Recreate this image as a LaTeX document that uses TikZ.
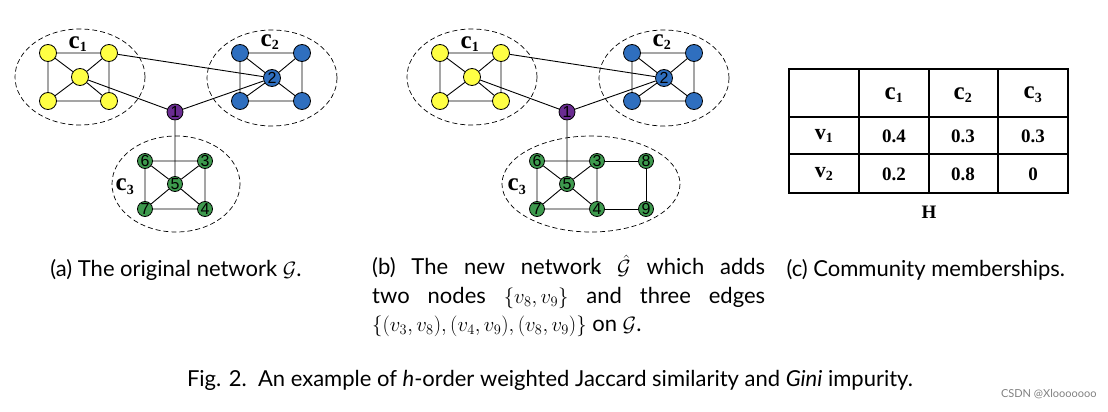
\documentclass[tikz,border=0pt]{standalone}
\usepackage{fontspec}
\setmainfont{Lato}
\newfontfamily\tnr{Liberation Serif}
\newfontfamily\ars{Liberation Sans}
\usetikzlibrary{calc}
\definecolor{yel}{HTML}{FFFF44}
\definecolor{blu}{HTML}{2F6FBF}
\definecolor{grn}{HTML}{3E9A4E}
\definecolor{pur}{HTML}{6A2C91}
\begin{document}
\begin{tikzpicture}[x=1pt,y=-1pt,
  vtx/.style={circle,draw=black,line width=0.8pt,inner sep=0pt,minimum size=#1,font=\ars\fontsize{16}{16}\selectfont},
  yv/.style={vtx=17pt,fill=yel},
  bv/.style={vtx=17pt,fill=blu},
  gv/.style={vtx=15pt,fill=grn},
  pv/.style={vtx=16pt,fill=pur},
  comm/.style={draw,dashed,line width=0.7pt,dash pattern=on 5pt off 3pt},
  edge/.style={line width=0.9pt},
  clab/.style={font=\tnr\bfseries\fontsize{25}{25}\selectfont},
  cell/.style={font=\tnr\bfseries\fontsize{19}{19}\selectfont},
  captxt/.style={font=\fontsize{22}{28.5}\selectfont}]
\useasboundingbox (0,0) rectangle (1108,412);
\newcommand{\cl}[1]{c\textsubscript{\fontsize{14}{14}\selectfont #1}}
% ---------- (a) and (b)
\foreach \dx/\p in {0/a,392/b}{
 \begin{scope}[xshift=\dx]
  \draw[comm] (80,77) ellipse (65 and 48);
  \draw[comm] (272,78) ellipse (65 and 48);
  \node[clab] (\p c1) at (78,44) {\cl{1}};
  \node[clab] (\p c2) at (270,42) {\cl{2}};
  \node[yv] (\p y1) at (48,53) {};
  \node[yv] (\p y2) at (109,53) {};
  \node[yv] (\p y0) at (80,77) {};
  \node[yv] (\p y3) at (48,101) {};
  \node[yv] (\p y4) at (109,101) {};
  \node[bv] (\p b1) at (240,53) {};
  \node[bv] (\p b2) at (302,53) {};
  \node[bv] (\p n2) at (272,78) {2};
  \node[bv] (\p b3) at (240,101) {};
  \node[bv] (\p b4) at (302,101) {};
  \node[pv] (\p n1) at (175,112) {1};
  \node[gv] (\p n6) at (145,161) {6};
  \node[gv] (\p n3) at (205,161) {3};
  \node[gv] (\p n5) at (175,184) {5};
  \node[gv] (\p n7) at (145,209) {7};
  \node[gv] (\p n4) at (205,209) {4};
  \draw[edge] (\p y1)--(\p y2) (\p y3)--(\p y4) (\p y1)--(\p y3) (\p y2)--(\p y4)
    (\p y0)--(\p y1) (\p y0)--(\p y2) (\p y0)--(\p y3) (\p y0)--(\p y4);
  \draw[edge] (\p b1)--(\p b2) (\p b3)--(\p b4) (\p b1)--(\p b3) (\p b2)--(\p b4)
    (\p n2)--(\p b1) (\p n2)--(\p b2) (\p n2)--(\p b3) (\p n2)--(\p b4);
  \draw[edge] (\p n6)--(\p n3) (\p n7)--(\p n4) (\p n6)--(\p n7) (\p n3)--(\p n4)
    (\p n5)--(\p n6) (\p n5)--(\p n3) (\p n5)--(\p n7) (\p n5)--(\p n4);
  \draw[edge] (\p y2)--(\p n2) (\p y0)--(\p n1) (\p n1)--(\p n2) (\p n1)--(\p n5);
 \end{scope}}
\draw[comm] (176,184) ellipse (64 and 48);
\node[clab] (ac3) at (125,187) {\cl{3}};
\draw[comm] (591,184) ellipse (89 and 48);
\node[clab] (bc3) at (517,187) {\cl{3}};
\node[gv] (b8) at (646,161) {8};
\node[gv] (b9) at (646,209) {9};
\draw[edge] (bn3)--(b8) (bn4)--(b9) (b8)--(b9);
% ---------- table
\draw[line width=1.3pt] (789,69) rectangle (1068,193);
\foreach \x in {859,929,998} \draw[line width=1.3pt] (\x,69)--(\x,193);
\foreach \y in {117,154} \draw[line width=1.3pt] (789,\y)--(1068,\y);
\node[clab] (h1) at (894,95) {\cl{1}};
\node[clab] (h2) at (963,95) {\cl{2}};
\node[clab] (h3) at (1033,95) {\cl{3}};
\node[cell] (r1) at (824,136) {\fontsize{22}{22}\selectfont v\textsubscript{\fontsize{14}{14}\selectfont 1}};
\node[cell] (r2) at (824,174) {\fontsize{22}{22}\selectfont v\textsubscript{\fontsize{14}{14}\selectfont 2}};
\node[cell] at (894,136) {0.4};
\node[cell] at (963,136) {0.3};
\node[cell] at (1033,136) {0.3};
\node[cell] at (894,174) {0.2};
\node[cell] at (963,174) {0.8};
\node[cell] at (1033,174) {0};
\node[cell] (H) at (929,212) {H};
% ---------- captions
\node[captxt,anchor=base] (capa) at (176,276) {(a) The original network $\mathcal{G}$.};
\node[captxt,anchor=north west,text width=393pt,align=justify,inner sep=0pt] (capb) at (372,255)
 {(b) The new network $\hat{\mathcal{G}}$ which adds two nodes $\{v_8,v_9\}$ and three edges $\{(v_3,v_8),(v_4,v_9),(v_8,v_9)\}$ on $\mathcal{G}$.};
\node[captxt,anchor=base west] (capc) at (783,276) {(c) Community memberships.};
\node[captxt,anchor=base] (fig) at (550,386) {Fig. 2.\ \ An example of \textit{h}-order weighted Jaccard similarity and \textit{Gini} impurity.};
\node[font=\fontsize{11}{11}\selectfont,text=gray,anchor=base east] (wm) at (1100,397) {CSDN @Xlooooooo};
\end{tikzpicture}
\end{document}
